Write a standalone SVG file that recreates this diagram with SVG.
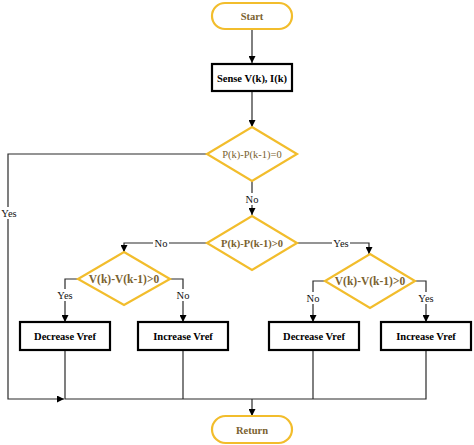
<svg xmlns="http://www.w3.org/2000/svg" width="474" height="445" viewBox="0 0 474 445" font-family="'Liberation Serif', 'Times New Roman', serif">
<style>
.term{fill:#fff;stroke:#f2bd2c;stroke-width:2.2}
.dec{fill:#fff;stroke:#f2bd2c;stroke-width:2.2}
.proc{fill:#fff;stroke:#000;stroke-width:2.2}
.ln{fill:none;stroke:#2a2a2a;stroke-width:1.2}
text{font-family:'Liberation Serif','Times New Roman',serif;font-size:10.5px;text-anchor:middle;dominant-baseline:central}
.b{font-weight:bold}
.br{fill:#7a6230}
.v{font-size:11.5px}
.lbl{fill:#111;font-size:10.5px}
</style>
<defs>
<marker id="ah" viewBox="0 0 10 10" refX="10" refY="5" markerWidth="7" markerHeight="7" markerUnits="userSpaceOnUse" orient="auto">
<path d="M0,0 L10,5 L0,10 z" fill="#000"/>
</marker>
</defs>
<rect width="474" height="445" fill="#fff"/>
<g id="connectors">
<path class="ln" d="M252,29 V63" marker-end="url(#ah)"/>
<path class="ln" d="M252,91 V127" marker-end="url(#ah)"/>
<path class="ln" d="M207,154 H8 V399 H64" marker-end="url(#ah)"/>
<path class="ln" d="M252,181 V215" marker-end="url(#ah)"/>
<path class="ln" d="M207,243 H124 V252" marker-end="url(#ah)"/>
<path class="ln" d="M297,243 H369 V254" marker-end="url(#ah)"/>
<path class="ln" d="M78,279 H65 V322" marker-end="url(#ah)"/>
<path class="ln" d="M170,279 H183 V322" marker-end="url(#ah)"/>
<path class="ln" d="M325,281 H313 V322" marker-end="url(#ah)"/>
<path class="ln" d="M415,281 H426 V322" marker-end="url(#ah)"/>
<path class="ln" d="M65,350 V399 H426 V350"/>
<path class="ln" d="M183,350 V399"/>
<path class="ln" d="M313,350 V399"/>
<path class="ln" d="M252,399 V416" marker-end="url(#ah)"/>
<rect x="0" y="207" width="18" height="12" fill="#fff"/>
<text class="lbl" x="9" y="213">Yes</text>
<rect x="243" y="193" width="18" height="12" fill="#fff"/>
<text class="lbl" x="252" y="199">No</text>
<rect x="153" y="237" width="16" height="12" fill="#fff"/>
<text class="lbl" x="161" y="243">No</text>
<rect x="332" y="237" width="18" height="12" fill="#fff"/>
<text class="lbl" x="341" y="243">Yes</text>
<rect x="56" y="289" width="18" height="12" fill="#fff"/>
<text class="lbl" x="65" y="295">Yes</text>
<rect x="175" y="289" width="16" height="12" fill="#fff"/>
<text class="lbl" x="183" y="295">No</text>
<rect x="305" y="292" width="16" height="12" fill="#fff"/>
<text class="lbl" x="313" y="298">No</text>
<rect x="417" y="292" width="18" height="12" fill="#fff"/>
<text class="lbl" x="426" y="298">Yes</text>
</g>
<g id="start">
<rect class="term" x="212" y="3" width="80" height="26" rx="13"/>
<text class="b br" x="252" y="16">Start</text>
</g>
<g id="sense">
<rect class="proc" x="212" y="64" width="80" height="27"/>
<text class="b" x="252" y="78">Sense V(k), I(k)</text>
</g>
<g id="dec1">
<polygon class="dec" points="252,127 297,154 252,181 207,154"/>
<text class="br" x="252" y="154">P(k)-P(k-1)=0</text>
</g>
<g id="dec2">
<polygon class="dec" points="252,216 297,243 252,270 207,243"/>
<text class="b br" x="252" y="243">P(k)-P(k-1)&gt;0</text>
</g>
<g id="dec3">
<polygon class="dec" points="124,252 170,279 124,305 78,279"/>
<text class="b br v" x="124" y="279">V(k)-V(k-1)&gt;0</text>
</g>
<g id="dec4">
<polygon class="dec" points="370,254 415,281 370,308 325,281"/>
<text class="b br v" x="370" y="281">V(k)-V(k-1)&gt;0</text>
</g>
<g id="box1">
<rect class="proc" x="20" y="322" width="90" height="28"/>
<text class="b" x="65" y="336">Decrease Vref</text>
</g>
<g id="box2">
<rect class="proc" x="138" y="322" width="90" height="28"/>
<text class="b" x="183" y="336">Increase Vref</text>
</g>
<g id="box3">
<rect class="proc" x="269" y="322" width="90" height="28"/>
<text class="b" x="314" y="336">Decrease Vref</text>
</g>
<g id="box4">
<rect class="proc" x="381" y="322" width="90" height="28"/>
<text class="b" x="426" y="336">Increase Vref</text>
</g>
<g id="return">
<rect class="term" x="212" y="416" width="80" height="27" rx="13.5"/>
<text class="b br" x="252" y="430">Return</text>
</g>
</svg>
